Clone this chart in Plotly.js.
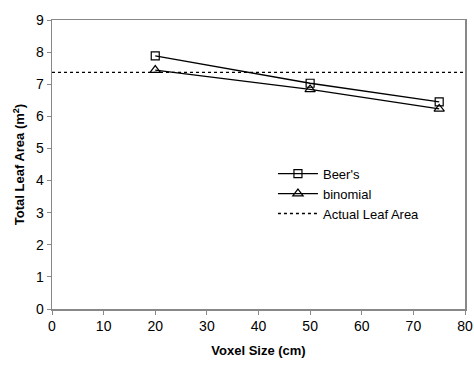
<!DOCTYPE html>
<html>
<head>
<meta charset="utf-8">
<script src="https://cdn.plot.ly/plotly-3.0.1.min.js"></script>
<style>html,body{margin:0;padding:0;background:#fff;}</style>
</head>
<body>
<div id="chart" style="width:474px;height:374px;"></div>
<script>
const voxelSize = [20, 50, 75];
const beers = [7.88, 7.03, 6.45];
const binomial = [7.44, 6.84, 6.23];
const actualLeafArea = 7.37;
const xRange = [0, 80];
const yRange = [0, 9];

const font = {family: 'Liberation Sans, Arial, sans-serif', size: 13, color: '#000'};

const traces = [
  {
    x: voxelSize, y: beers, name: "Beer's", mode: 'lines+markers', type: 'scatter',
    line: {color: '#000', width: 1.3},
    marker: {symbol: 'square-open', size: 8, color: '#000', line: {width: 1.2}}
  },
  {
    x: voxelSize, y: binomial, name: 'binomial', mode: 'lines+markers', type: 'scatter',
    line: {color: '#000', width: 1.3},
    marker: {symbol: 'triangle-up-open', size: 9, color: '#000', line: {width: 1.2}}
  },
  {
    x: xRange, y: [actualLeafArea, actualLeafArea], name: 'Actual Leaf Area', mode: 'lines', type: 'scatter',
    line: {color: '#000', width: 1.4, dash: 'dot'}
  }
];

const layout = {
  width: 474, height: 374,
  margin: {l: 52, r: 9, t: 20, b: 65},
  paper_bgcolor: '#fff', plot_bgcolor: '#fff',
  font: font,
  showlegend: true,
  legend: {
    x: 0.535, y: 0.52, xanchor: 'left', yanchor: 'top',
    bgcolor: 'rgba(0,0,0,0)', font: {family: font.family, size: 13, color: '#000'},
    tracegroupgap: 0, itemwidth: 40
  },
  xaxis: {
    range: xRange, dtick: 10, tick0: 0,
    showgrid: false, zeroline: false,
    showline: true, linecolor: '#888', linewidth: 1.5, mirror: true,
    ticks: 'outside', ticklen: 4, tickcolor: '#888',
    tickfont: {family: font.family, size: 14, color: '#000'},
    title: {text: '<b>Voxel Size (cm)</b>', font: {family: font.family, size: 13, color: '#000'}, standoff: 12}
  },
  yaxis: {
    range: yRange, dtick: 1, tick0: 0,
    showgrid: false, zeroline: false,
    showline: true, linecolor: '#888', linewidth: 1.5, mirror: true,
    ticks: 'outside', ticklen: 4, tickcolor: '#888',
    tickfont: {family: font.family, size: 14, color: '#000'},
    title: {text: '<b>Total Leaf Area (m<sup>2</sup>)</b>', font: {family: font.family, size: 13, color: '#000'}, standoff: 8}
  }
};

Plotly.newPlot('chart', traces, layout, {displayModeBar: false, staticPlot: true});
</script>
</body>
</html>
